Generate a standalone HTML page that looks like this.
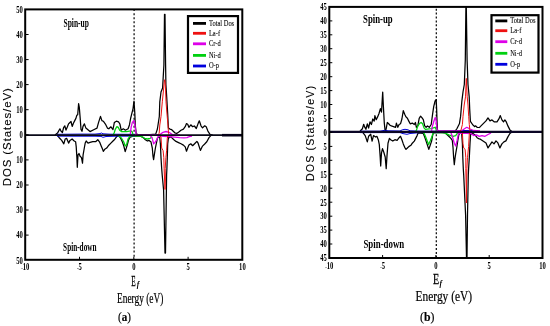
<!DOCTYPE html>
<html><head><meta charset="utf-8"><style>
html,body{margin:0;padding:0;background:#fff;overflow:hidden;}
svg{display:block;}
.tk{font-family:"Liberation Serif",serif;font-size:10px;font-weight:bold;}
.lg{font-family:"Liberation Serif",serif;font-size:9px;stroke:#000;stroke-width:0.1px;}
.sp{font-family:"Liberation Serif",serif;font-size:12.5px;font-weight:bold;}
.ef{font-family:"Liberation Serif",serif;font-size:13.9px;stroke:#000;stroke-width:0.3px;}
.sub{font-family:"Liberation Serif",serif;font-style:italic;font-weight:bold;font-size:8.5px;}
.en{font-family:"Liberation Serif",serif;font-size:13.6px;stroke:#000;stroke-width:0.2px;}
.en2{font-family:"Liberation Serif",serif;font-size:13.9px;stroke:#000;stroke-width:0.2px;}
.lab{font-family:"Liberation Serif",serif;font-size:11.8px;stroke:#000;stroke-width:0.15px;}
.lb{font-weight:bold;}
.mn{font-size:7px;}
.yt{font-family:"Liberation Sans",sans-serif;font-size:11.4px;stroke:#000;stroke-width:0.1px;}
.yt2{font-family:"Liberation Sans",sans-serif;font-size:10.6px;stroke:#000;stroke-width:0.1px;}
</style></head><body>
<svg width="550" height="326" viewBox="0 0 550 326">
<line x1="134.1" y1="9.1" x2="134.1" y2="259" stroke="#000" stroke-width="1.2" stroke-dasharray="2,2.025"/>
<polyline points="55.0,135.0 57.5,133.1 59.9,128.8 61.1,131.3 62.4,132.5 63.6,127.6 64.8,125.8 66.0,130.1 67.3,127.0 68.5,123.9 69.7,122.7 71.0,121.5 72.2,126.4 73.4,123.3 74.6,120.9 75.9,118.4 76.8,115.3 77.7,114.7 78.6,103.7 79.3,107.4 80.2,118.4 81.0,129.4 82.0,131.3 83.0,126.4 84.4,123.9 85.9,128.1 90.0,131.6 94.2,129.5 97.0,128.1 98.5,122.6 100.5,116.4 101.9,120.6 103.3,121.2 105.4,124.0 107.4,128.1 108.8,128.8 110.9,126.8 113.0,129.5 114.3,122.6 116.4,121.2 118.5,121.9 119.9,124.0 121.2,130.2 123.3,128.8 125.4,130.2 128.1,128.8 129.5,124.7 130.6,118.5 131.6,114.3 133.0,108.8 134.0,101.2 134.8,113.0 135.3,125.4 136.2,133.7 138.0,134.5 150.0,134.5 155.7,134.1 157.4,129.0 159.3,116.5 159.8,101.8 161.0,92.0 162.6,88.0 163.9,65.0 164.5,14.3 165.0,14.3 165.6,65.0 165.9,84.6 166.7,96.9 167.7,114.0 168.1,122.0 168.4,127.9 169.9,129.1 171.7,129.7 173.0,131.0 174.8,132.8 176.7,133.4 178.5,132.2 181.0,130.3 183.4,129.1 185.2,126.7 186.5,123.6 187.7,124.2 188.9,127.3 190.8,124.8 192.6,126.7 194.4,126.0 196.3,128.5 198.1,123.6 199.3,120.8 201.0,125.8 202.5,127.9 204.7,125.8 206.2,126.8 207.9,131.1 210.0,134.3 212.2,135.0" fill="none" stroke="#000" stroke-width="1.25" stroke-linejoin="round" />
<polyline points="56.5,135.0 57.6,135.5 59.7,138.3 61.7,140.4 63.8,143.8 65.2,139.0 66.6,138.3 68.6,143.1 70.0,140.4 72.1,139.0 74.2,141.0 75.6,141.7 76.2,146.6 76.9,157.6 77.3,167.3 78.0,154.9 79.0,153.5 80.1,156.2 81.5,157.6 82.5,163.1 83.1,154.9 84.3,148.0 85.2,143.1 86.2,141.0 88.0,143.1 90.0,142.4 92.8,141.7 95.6,141.7 97.8,139.7 99.8,142.4 101.2,145.9 102.6,149.3 103.3,151.4 104.7,149.3 106.7,148.0 108.8,145.2 110.9,143.1 113.0,141.0 114.8,139.2 116.9,136.4 119.0,135.7 120.4,137.8 122.4,142.0 123.8,146.0 125.2,151.6 126.3,148.1 127.3,144.7 128.6,139.9 130.0,137.1 134.0,135.8 140.5,136.2 143.3,137.6 145.4,139.7 147.4,141.0 148.8,140.4 150.9,141.7 152.3,148.0 153.0,156.2 153.6,159.7 154.3,154.9 155.4,148.0 156.4,143.1 157.4,138.3 158.5,136.9 159.7,137.0 160.4,143.8 161.0,157.6 161.7,168.7 162.2,175.0 163.6,190.0 165.0,253.0 165.5,253.0 166.4,190.0 166.6,175.0 166.9,168.7 167.3,157.6 167.7,143.8 168.6,136.5 169.3,137.6 170.9,136.9 173.6,139.5 176.0,141.4 178.5,142.6 181.0,143.8 183.4,145.1 185.2,146.9 186.5,151.2 187.7,148.1 188.9,145.1 190.8,143.8 192.6,145.7 195.1,143.2 196.9,141.4 198.1,143.2 200.4,150.4 202.5,146.1 204.7,144.0 206.8,141.8 209.0,137.6 211.1,135.4 213.0,135.0" fill="none" stroke="#000" stroke-width="1.25" stroke-linejoin="round" />
<polyline points="57.0,134.3 70.0,134.2 80.0,134.1 95.0,134.1 100.0,133.6 101.4,133.0 103.0,133.8 110.0,134.2 125.0,134.3 135.0,134.3" fill="none" stroke="#0000dd" stroke-width="1.0" stroke-linejoin="round" />
<polyline points="57.0,136.1 75.0,136.2 95.0,136.2 101.0,136.4 103.0,137.3 106.0,136.5 115.0,136.2 135.0,136.1" fill="none" stroke="#0000dd" stroke-width="1.0" stroke-linejoin="round" />
<polyline points="113.0,134.8 114.1,133.0 115.5,128.8 116.9,126.7 118.3,127.4 119.7,130.2 121.7,131.6 126.6,131.6 130.7,130.9 132.1,131.6 133.0,134.8" fill="none" stroke="#00d010" stroke-width="1.3" stroke-linejoin="round" />
<polyline points="118.0,135.5 119.7,136.4 121.7,138.5 123.8,142.0 125.2,146.0 126.6,144.7 128.0,139.2 129.3,137.1 130.0,135.5 140.5,136.0 144.7,138.3 147.4,139.0 150.2,138.3 152.3,136.9" fill="none" stroke="#00d010" stroke-width="1.3" stroke-linejoin="round" />
<polyline points="130.2,134.5 131.2,126.8 132.3,122.6 133.7,120.6 134.6,122.6 135.5,129.5 136.2,134.5 160.0,134.6 163.0,132.3 166.0,131.5 169.0,132.3 172.4,134.6 180.0,134.8" fill="none" stroke="#dd00e8" stroke-width="1.3" stroke-linejoin="round" />
<polyline points="150.5,136.0 152.3,138.3 153.6,143.8 155.0,142.4 156.4,140.4 157.8,136.9 160.0,136.0 167.5,136.5 174.8,137.1 179.7,137.7 184.0,137.8 187.0,137.7 189.5,136.5 192.0,136.0" fill="none" stroke="#dd00e8" stroke-width="1.3" stroke-linejoin="round" />
<polyline points="158.0,134.8 159.2,133.2 159.8,125.0 161.0,116.5 162.3,101.8 163.5,90.0 164.3,82.0 164.7,79.7 165.1,82.0 165.6,90.0 166.0,101.8 167.2,116.5 168.0,125.0 168.5,133.5 169.0,134.8" fill="none" stroke="#ee1111" stroke-width="1.0" stroke-linejoin="round" />
<polyline points="159.5,135.5 161.0,136.9 161.7,148.0 163.1,150.7 163.8,157.6 164.1,168.7 164.6,180.0 165.0,189.5 165.4,180.0 165.2,168.7 165.9,157.6 166.6,150.7 167.3,138.3 168.0,135.5" fill="none" stroke="#ee1111" stroke-width="1.0" stroke-linejoin="round" />
<line x1="25" y1="135.2" x2="222" y2="135.2" stroke="#0a0a18" stroke-width="1.8"/>
<line x1="222" y1="135.2" x2="242" y2="135.2" stroke="#05021a" stroke-width="2.6"/>
<rect x="25.2" y="9.4" width="217.1" height="250.4" fill="none" stroke="#000" stroke-width="2"/>
<text transform="translate(22.80,12.70) scale(0.660,1)" class="tk" text-anchor="end" >50</text>
<line x1="25.2" y1="34.5" x2="28.6" y2="34.5" stroke="#000" stroke-width="1"/>
<text transform="translate(22.80,37.78) scale(0.660,1)" class="tk" text-anchor="end" >40</text>
<line x1="25.2" y1="59.6" x2="28.6" y2="59.6" stroke="#000" stroke-width="1"/>
<text transform="translate(22.80,62.86) scale(0.660,1)" class="tk" text-anchor="end" >30</text>
<line x1="25.2" y1="84.6" x2="28.6" y2="84.6" stroke="#000" stroke-width="1"/>
<text transform="translate(22.80,87.94) scale(0.660,1)" class="tk" text-anchor="end" >20</text>
<line x1="25.2" y1="109.7" x2="28.6" y2="109.7" stroke="#000" stroke-width="1"/>
<text transform="translate(22.80,113.02) scale(0.660,1)" class="tk" text-anchor="end" >10</text>
<line x1="25.2" y1="134.8" x2="28.6" y2="134.8" stroke="#000" stroke-width="1"/>
<text transform="translate(22.80,138.10) scale(0.660,1)" class="tk" text-anchor="end" >0</text>
<line x1="25.2" y1="159.9" x2="28.6" y2="159.9" stroke="#000" stroke-width="1"/>
<text transform="translate(22.80,163.18) scale(0.660,1)" class="tk" text-anchor="end" >10</text>
<line x1="25.2" y1="185.0" x2="28.6" y2="185.0" stroke="#000" stroke-width="1"/>
<text transform="translate(22.80,188.26) scale(0.660,1)" class="tk" text-anchor="end" >20</text>
<line x1="25.2" y1="210.0" x2="28.6" y2="210.0" stroke="#000" stroke-width="1"/>
<text transform="translate(22.80,213.34) scale(0.660,1)" class="tk" text-anchor="end" >30</text>
<line x1="25.2" y1="235.1" x2="28.6" y2="235.1" stroke="#000" stroke-width="1"/>
<text transform="translate(22.80,238.42) scale(0.660,1)" class="tk" text-anchor="end" >40</text>
<text transform="translate(22.80,263.50) scale(0.660,1)" class="tk" text-anchor="end" >50</text>
<text transform="translate(25.20,270.30) scale(0.660,1)" class="tk" text-anchor="middle" ><tspan class="mn">-</tspan>10</text>
<line x1="79.5" y1="259.8" x2="79.5" y2="256.8" stroke="#000" stroke-width="1"/>
<text transform="translate(79.50,270.30) scale(0.660,1)" class="tk" text-anchor="middle" ><tspan class="mn">-</tspan>5</text>
<line x1="133.8" y1="259.8" x2="133.8" y2="256.8" stroke="#000" stroke-width="1"/>
<text transform="translate(133.80,270.30) scale(0.660,1)" class="tk" text-anchor="middle" >0</text>
<line x1="188.1" y1="259.8" x2="188.1" y2="256.8" stroke="#000" stroke-width="1"/>
<text transform="translate(188.10,270.30) scale(0.660,1)" class="tk" text-anchor="middle" >5</text>
<text transform="translate(242.40,270.30) scale(0.660,1)" class="tk" text-anchor="middle" >10</text>
<rect x="188" y="16.1" width="50" height="56.8" fill="#fff" stroke="#000" stroke-width="2.2"/>
<line x1="193" y1="23.4" x2="206" y2="23.4" stroke="#000" stroke-width="2.8"/>
<text transform="translate(208.90,25.60) scale(0.720,1)" class="lg" >Total Dos</text>
<line x1="193" y1="33.3" x2="206" y2="33.3" stroke="#ee1111" stroke-width="2.8"/>
<text transform="translate(208.90,35.50) scale(0.720,1)" class="lg" >La-f</text>
<line x1="193" y1="43.8" x2="206" y2="43.8" stroke="#dd00e8" stroke-width="2.8"/>
<text transform="translate(208.90,46.00) scale(0.720,1)" class="lg" >Cr-d</text>
<line x1="193" y1="55.4" x2="206" y2="55.4" stroke="#00d010" stroke-width="2.8"/>
<text transform="translate(208.90,57.60) scale(0.720,1)" class="lg" >Ni-d</text>
<line x1="193" y1="66.0" x2="206" y2="66.0" stroke="#0000dd" stroke-width="2.8"/>
<text transform="translate(208.90,68.20) scale(0.720,1)" class="lg" >O-p</text>
<text transform="translate(63.50,27.20) scale(0.600,1)" class="sp" >Spin-up</text>
<text transform="translate(63.10,250.60) scale(0.580,1)" class="sp" >Spin-down</text>
<text transform="translate(131.30,285.50) scale(0.520,1)" class="ef" >E</text>
<text transform="translate(136.80,286.60) scale(0.900,1)" class="sub" >f</text>
<text transform="translate(117.00,302.50) scale(0.690,1)" class="en" >Energy (eV)</text>
<text transform="translate(118.10,320.80) scale(0.940,1)" class="lab" >(<tspan class="lb">a</tspan>)</text>
<text transform="translate(10.9,186.3) rotate(-90)" class="yt" style="letter-spacing:0.95px">DOS (States/eV)</text>
<line x1="436.3" y1="8.66" x2="436.3" y2="257" stroke="#000" stroke-width="1.2" stroke-dasharray="2,1.924"/>
<polyline points="360.0,131.6 360.4,130.7 362.4,128.7 363.7,124.3 364.5,126.6 365.6,128.6 365.9,129.4 367.3,123.8 368.6,128.0 370.0,121.8 371.4,124.5 372.8,119.0 374.2,121.1 374.9,115.6 376.2,119.7 377.6,116.9 379.0,113.5 380.4,108.6 381.5,112.1 382.7,92.1 383.4,106.6 384.3,123.1 385.2,131.4 386.2,128.7 387.3,122.5 388.7,123.8 390.0,125.2 391.4,125.9 393.5,126.6 395.6,127.3 396.4,123.1 397.8,127.3 399.1,124.5 400.5,123.8 401.9,119.0 403.3,110.7 404.7,114.2 406.0,116.9 407.4,118.3 408.8,121.1 410.2,123.8 412.3,123.1 414.3,124.5 415.4,122.5 416.4,127.3 417.8,125.9 419.2,118.3 420.6,116.2 421.9,117.6 423.3,119.7 424.7,125.9 426.1,127.3 427.5,125.9 429.3,127.3 431.2,124.5 432.6,114.2 433.7,106.6 435.1,101.0 436.2,99.7 436.7,110.7 437.1,123.1 437.5,130.0 438.5,131.4 455.0,131.4 457.0,128.5 459.4,123.8 460.6,116.4 461.8,101.7 463.0,92.0 464.3,84.5 465.3,60.0 465.9,7.0 466.3,7.0 467.1,60.0 468.0,84.5 469.2,96.8 469.7,109.0 470.4,121.3 472.9,125.0 474.1,125.9 474.4,126.6 475.7,125.9 477.1,127.3 479.2,127.5 480.0,126.9 483.0,123.9 486.0,120.9 488.0,117.9 490.0,120.9 492.0,119.9 494.4,121.9 497.0,121.9 498.9,118.9 500.3,115.6 501.9,119.9 503.5,121.9 504.9,119.9 506.3,121.9 507.9,125.9 509.9,129.9 511.9,131.5" fill="none" stroke="#000" stroke-width="1.25" stroke-linejoin="round" />
<polyline points="360.0,131.6 361.0,131.8 363.1,132.8 365.2,135.6 367.3,141.8 368.6,136.3 370.7,134.2 372.1,141.1 373.5,135.6 375.6,137.0 376.9,136.3 378.3,139.7 379.3,144.6 380.1,155.6 380.7,166.0 381.5,152.9 382.5,148.7 383.8,152.2 385.2,157.0 386.2,168.7 387.0,155.6 388.0,143.2 389.4,138.4 390.7,139.7 392.8,141.1 394.9,139.7 397.1,140.4 399.1,137.7 400.5,136.3 401.9,139.7 403.3,143.9 404.7,147.3 406.0,149.4 407.4,148.0 408.8,146.6 410.9,145.3 412.3,143.2 414.3,141.1 415.7,138.4 417.1,135.6 418.2,132.8 423.3,133.5 424.7,137.0 426.1,141.1 427.5,145.3 428.8,149.4 430.2,145.3 431.6,141.1 432.6,135.6 433.4,132.8 440.0,132.4 444.7,132.8 446.7,134.2 448.8,136.3 450.9,138.4 452.3,140.4 453.0,147.3 453.6,157.0 454.3,164.6 455.0,158.4 455.7,153.6 456.8,147.3 457.8,140.4 458.8,134.9 459.9,132.8 461.7,133.5 462.4,143.8 462.8,157.6 463.3,168.7 463.7,175.0 465.6,215.0 466.5,258.0 467.0,258.0 467.5,215.0 468.3,175.0 468.6,168.7 469.3,157.6 470.0,143.8 470.6,134.1 471.2,134.2 473.0,133.5 475.0,134.9 477.1,137.7 479.2,139.0 480.0,138.9 483.0,140.9 486.0,142.9 488.0,147.9 490.0,144.9 492.0,141.9 494.0,143.9 496.0,140.9 497.9,142.9 499.9,147.9 501.9,143.9 503.9,141.9 505.9,140.9 507.9,136.9 509.9,133.5 511.9,131.9" fill="none" stroke="#000" stroke-width="1.25" stroke-linejoin="round" />
<polyline points="360.0,131.2 380.0,131.2 385.0,130.2 388.0,130.8 400.0,131.0 402.3,129.8 405.0,129.3 408.0,129.8 410.0,130.8 420.0,131.2 455.0,131.2 462.0,130.6 470.0,130.4 478.0,131.2" fill="none" stroke="#0000dd" stroke-width="1.0" stroke-linejoin="round" />
<polyline points="360.0,132.6 400.0,132.6 403.0,133.6 407.0,134.3 410.0,133.5 420.0,132.6 440.0,132.6" fill="none" stroke="#0000dd" stroke-width="1.0" stroke-linejoin="round" />
<polyline points="415.7,131.5 416.5,130.0 417.8,125.9 419.9,123.1 421.2,122.5 422.6,123.8 424.0,127.9 425.4,129.4 430.9,128.7 435.1,127.3 436.4,130.0 437.0,131.5" fill="none" stroke="#00d010" stroke-width="1.3" stroke-linejoin="round" />
<polyline points="423.3,132.5 424.2,133.5 425.5,136.5 427.0,140.5 428.6,144.5 430.2,141.0 431.6,137.5 432.8,134.0 433.5,132.5 440.0,132.6 444.7,132.8 448.8,134.9 453.0,136.3 455.7,135.6 457.1,133.5 458.0,132.6" fill="none" stroke="#00d010" stroke-width="1.3" stroke-linejoin="round" />
<polyline points="431.5,131.2 432.3,126.6 433.7,121.8 435.1,117.6 435.9,118.3 436.7,125.9 437.3,130.7 460.0,131.0 462.6,130.0 466.8,127.3 470.0,129.0 473.7,130.5 480.0,131.0" fill="none" stroke="#dd00e8" stroke-width="1.3" stroke-linejoin="round" />
<polyline points="451.0,133.0 452.3,136.3 454.3,143.2 455.7,146.0 457.1,140.4 458.5,133.5 462.0,133.0 470.9,133.5 473.7,135.6 476.4,134.9 479.2,136.3 482.0,135.6 485.0,136.3 488.0,134.5 491.0,133.0" fill="none" stroke="#dd00e8" stroke-width="1.3" stroke-linejoin="round" />
<polyline points="459.5,131.4 461.0,130.0 462.4,124.5 463.0,116.4 464.2,105.0 465.5,96.8 466.0,85.0 466.3,78.4 466.6,85.0 467.2,96.8 468.0,105.0 468.7,116.4 469.3,124.5 470.0,131.4" fill="none" stroke="#ee1111" stroke-width="1.0" stroke-linejoin="round" />
<polyline points="461.5,132.6 462.4,132.8 463.0,143.8 463.7,148.0 465.1,149.3 465.8,157.6 465.8,168.7 466.2,185.0 466.4,203.0 466.6,185.0 466.9,168.7 467.5,157.6 468.6,146.6 469.3,134.0 469.8,132.6" fill="none" stroke="#ee1111" stroke-width="1.0" stroke-linejoin="round" />
<line x1="329" y1="131.9" x2="542.6" y2="131.9" stroke="#0a0525" stroke-width="2.2"/>
<rect x="329.3" y="6.9" width="213.2" height="251.1" fill="none" stroke="#000" stroke-width="2"/>
<text transform="translate(326.90,10.20) scale(0.660,1)" class="tk" text-anchor="end" >45</text>
<line x1="329.3" y1="20.9" x2="332.3" y2="20.9" stroke="#000" stroke-width="1"/>
<text transform="translate(326.90,24.15) scale(0.660,1)" class="tk" text-anchor="end" >40</text>
<line x1="329.3" y1="34.8" x2="332.3" y2="34.8" stroke="#000" stroke-width="1"/>
<text transform="translate(326.90,38.10) scale(0.660,1)" class="tk" text-anchor="end" >35</text>
<line x1="329.3" y1="48.7" x2="332.3" y2="48.7" stroke="#000" stroke-width="1"/>
<text transform="translate(326.90,52.05) scale(0.660,1)" class="tk" text-anchor="end" >30</text>
<line x1="329.3" y1="62.7" x2="332.3" y2="62.7" stroke="#000" stroke-width="1"/>
<text transform="translate(326.90,66.00) scale(0.660,1)" class="tk" text-anchor="end" >25</text>
<line x1="329.3" y1="76.7" x2="332.3" y2="76.7" stroke="#000" stroke-width="1"/>
<text transform="translate(326.90,79.95) scale(0.660,1)" class="tk" text-anchor="end" >20</text>
<line x1="329.3" y1="90.6" x2="332.3" y2="90.6" stroke="#000" stroke-width="1"/>
<text transform="translate(326.90,93.90) scale(0.660,1)" class="tk" text-anchor="end" >15</text>
<line x1="329.3" y1="104.5" x2="332.3" y2="104.5" stroke="#000" stroke-width="1"/>
<text transform="translate(326.90,107.85) scale(0.660,1)" class="tk" text-anchor="end" >10</text>
<line x1="329.3" y1="118.5" x2="332.3" y2="118.5" stroke="#000" stroke-width="1"/>
<text transform="translate(326.90,121.80) scale(0.660,1)" class="tk" text-anchor="end" >5</text>
<line x1="329.3" y1="132.4" x2="332.3" y2="132.4" stroke="#000" stroke-width="1"/>
<text transform="translate(326.90,135.75) scale(0.660,1)" class="tk" text-anchor="end" >0</text>
<line x1="329.3" y1="146.4" x2="332.3" y2="146.4" stroke="#000" stroke-width="1"/>
<text transform="translate(326.90,149.70) scale(0.660,1)" class="tk" text-anchor="end" >5</text>
<line x1="329.3" y1="160.3" x2="332.3" y2="160.3" stroke="#000" stroke-width="1"/>
<text transform="translate(326.90,163.65) scale(0.660,1)" class="tk" text-anchor="end" >10</text>
<line x1="329.3" y1="174.3" x2="332.3" y2="174.3" stroke="#000" stroke-width="1"/>
<text transform="translate(326.90,177.60) scale(0.660,1)" class="tk" text-anchor="end" >15</text>
<line x1="329.3" y1="188.2" x2="332.3" y2="188.2" stroke="#000" stroke-width="1"/>
<text transform="translate(326.90,191.55) scale(0.660,1)" class="tk" text-anchor="end" >20</text>
<line x1="329.3" y1="202.2" x2="332.3" y2="202.2" stroke="#000" stroke-width="1"/>
<text transform="translate(326.90,205.50) scale(0.660,1)" class="tk" text-anchor="end" >25</text>
<line x1="329.3" y1="216.2" x2="332.3" y2="216.2" stroke="#000" stroke-width="1"/>
<text transform="translate(326.90,219.45) scale(0.660,1)" class="tk" text-anchor="end" >30</text>
<line x1="329.3" y1="230.1" x2="332.3" y2="230.1" stroke="#000" stroke-width="1"/>
<text transform="translate(326.90,233.40) scale(0.660,1)" class="tk" text-anchor="end" >35</text>
<line x1="329.3" y1="244.0" x2="332.3" y2="244.0" stroke="#000" stroke-width="1"/>
<text transform="translate(326.90,247.35) scale(0.660,1)" class="tk" text-anchor="end" >40</text>
<text transform="translate(326.90,261.30) scale(0.660,1)" class="tk" text-anchor="end" >45</text>
<text transform="translate(329.30,268.90) scale(0.660,1)" class="tk" text-anchor="middle" ><tspan class="mn">-</tspan>10</text>
<line x1="382.6" y1="258" x2="382.6" y2="255" stroke="#000" stroke-width="1"/>
<text transform="translate(382.60,268.90) scale(0.660,1)" class="tk" text-anchor="middle" ><tspan class="mn">-</tspan>5</text>
<line x1="435.9" y1="258" x2="435.9" y2="255" stroke="#000" stroke-width="1"/>
<text transform="translate(435.90,268.90) scale(0.660,1)" class="tk" text-anchor="middle" >0</text>
<line x1="489.2" y1="258" x2="489.2" y2="255" stroke="#000" stroke-width="1"/>
<text transform="translate(489.20,268.90) scale(0.660,1)" class="tk" text-anchor="middle" >5</text>
<text transform="translate(542.50,268.90) scale(0.660,1)" class="tk" text-anchor="middle" >10</text>
<rect x="491.5" y="15.2" width="47" height="57.4" fill="#fff" stroke="#000" stroke-width="2.2"/>
<line x1="495.3" y1="20.9" x2="507.3" y2="20.9" stroke="#000" stroke-width="2.8"/>
<text transform="translate(510.20,23.10) scale(0.720,1)" class="lg" >Total Dos</text>
<line x1="495.3" y1="30.7" x2="507.3" y2="30.7" stroke="#ee1111" stroke-width="2.8"/>
<text transform="translate(510.20,32.90) scale(0.720,1)" class="lg" >La-f</text>
<line x1="495.3" y1="41.7" x2="507.3" y2="41.7" stroke="#dd00e8" stroke-width="2.8"/>
<text transform="translate(510.20,43.90) scale(0.720,1)" class="lg" >Cr-d</text>
<line x1="495.3" y1="53.3" x2="507.3" y2="53.3" stroke="#00d010" stroke-width="2.8"/>
<text transform="translate(510.20,55.50) scale(0.720,1)" class="lg" >Ni-d</text>
<line x1="495.3" y1="64.3" x2="507.3" y2="64.3" stroke="#0000dd" stroke-width="2.8"/>
<text transform="translate(510.20,66.50) scale(0.720,1)" class="lg" >O-p</text>
<text transform="translate(363.10,22.80) scale(0.700,1)" class="sp" >Spin-up</text>
<text transform="translate(363.40,247.70) scale(0.710,1)" class="sp" >Spin-down</text>
<text transform="translate(432.90,284.00) scale(0.720,1)" class="ef" >E</text>
<text transform="translate(439.60,285.60) scale(0.900,1)" class="sub" >f</text>
<text transform="translate(415.60,300.90) scale(0.820,1)" class="en2" >Energy (eV)</text>
<text x="420.00" y="320.90" class="lab" >(<tspan class="lb">b</tspan>)</text>
<text transform="translate(314.3,181) rotate(-90)" class="yt2" style="letter-spacing:1.15px">DOS (States/eV)</text>
</svg>
</body></html>
